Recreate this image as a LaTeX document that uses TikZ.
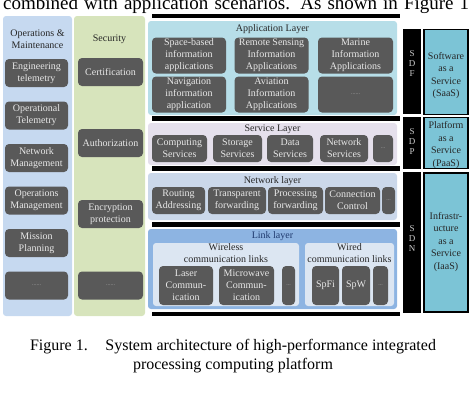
\documentclass[tikz,border=0pt]{standalone}
\usepackage{fontspec}
\setmainfont{Liberation Serif}
\usetikzlibrary{positioning}

\definecolor{opsbg}{HTML}{C6D9F0}
\definecolor{secbg}{HTML}{D7E4BC}
\definecolor{appbg}{HTML}{B7DEE8}
\definecolor{svcbg}{HTML}{E5E0EC}
\definecolor{netbg}{HTML}{CBD8EA}
\definecolor{linkbg}{HTML}{8DB4E2}
\definecolor{linkin}{HTML}{DCE6F2}
\definecolor{boxgray}{HTML}{595959}
\definecolor{boxtext}{HTML}{E8E8E8}
\definecolor{titletext}{HTML}{262626}
\definecolor{linktext}{HTML}{1F3A6E}
\definecolor{aascyan}{HTML}{7CC4D6}

\begin{document}
\begin{tikzpicture}[x=1pt, y=-1pt, font=\fontsize{10}{12.5}\selectfont]
	\tikzstyle{panel} = [rounded corners=3pt, inner sep=0pt]
	\tikzstyle{block} = [fill=boxgray, text=boxtext, rounded corners=4pt, inner sep=0pt, align=center, font=\fontsize{10}{12}\selectfont]
	\tikzstyle{dots} = [font=\fontsize{6}{6}\selectfont, text=gray!70]
	\tikzstyle{title} = [text=titletext, inner sep=0pt, align=center]
	\tikzstyle{sdx} = [fill=black, text=gray!40, inner sep=0pt, align=center, font=\fontsize{9}{10}\selectfont]
	\tikzstyle{aas} = [draw=black, line width=1.5pt, fill=aascyan, text=titletext, inner sep=0pt, align=center]

	\useasboundingbox (0,0) rectangle (474,400);

	\node[anchor=base west, inner sep=0pt, font=\fontsize{19}{22}\selectfont] (intro) at (3,9)
		{\makebox[466pt][s]{combined with application scenarios. As shown in Figure 1}};

	\begin{scope}
		\node[panel, fill=opsbg, minimum width=69, minimum height=300] (ops) at (37.5,166) {};
		\node[title] (opst) at (37.5,39) {Operations \&\\Maintenance};
		\node[block, minimum width=63, minimum height=28] (eng) at (36.5,73) {Engineering\\telemetry};
		\node[block, minimum width=63, minimum height=28] (opt) at (36.5,115.5) {Operational\\Telemetry};
		\node[block, minimum width=63, minimum height=28] (nwm) at (36.5,158) {Network\\Management};
		\node[block, minimum width=63, minimum height=28] (opm) at (36.5,200.5) {Operations\\Management};
		\node[block, minimum width=63, minimum height=28] (mis) at (36.5,243) {Mission\\Planning};
		\node[block, dots, minimum width=63, minimum height=28] (opd) at (36.5,285.5) {......};
	\end{scope}

	\begin{scope}
		\node[panel, fill=secbg, minimum width=71, minimum height=300] (sec) at (109.5,166) {};
		\node[title] (sect) at (109.5,39) {Security};
		\node[block, minimum width=65, minimum height=28] (cert) at (110.5,72) {Certification};
		\node[block, minimum width=65, minimum height=28] (auth) at (110.5,143) {Authorization};
		\node[block, minimum width=65, minimum height=28] (enc) at (110.5,214) {Encryption\\protection};
		\node[block, dots, minimum width=65, minimum height=28] (secd) at (110.5,285.5) {......};
	\end{scope}

	\fill (152,14) rectangle (400,18);
	\fill (152,116) rectangle (400,121);
	\fill (152,166) rectangle (400,171);
	\fill (152,222) rectangle (400,227);
	\fill (152,312) rectangle (400,316);

	\begin{scope}
		\node[panel, fill=appbg, minimum width=249, minimum height=94] (app) at (272.5,68) {};
		\node[title] (appt) at (272.5,29) {Application Layer};
		\node[block, minimum width=74, minimum height=36] (spc) at (189,55.5) {Space-based\\information\\applications};
		\node[block, minimum width=74, minimum height=36] (rs) at (271.5,55.5) {Remote Sensing\\Information\\Applications};
		\node[block, minimum width=75, minimum height=36] (mar) at (355.5,55.5) {Marine\\Information\\Applications};
		\node[block, minimum width=74, minimum height=36] (nav) at (189,94.5) {Navigation\\information\\application};
		\node[block, minimum width=74, minimum height=36] (avi) at (271.5,94.5) {Aviation\\Information\\Applications};
		\node[block, dots, minimum width=75, minimum height=36] (appd) at (355.5,94.5) {......};
	\end{scope}

	\begin{scope}
		\node[panel, fill=svcbg, minimum width=249, minimum height=42] (svc) at (272.5,144) {};
		\node[title] (svct) at (272.5,129) {Service Layer};
		\node[block, minimum width=55, minimum height=27] (comp) at (179.5,148.5) {Computing\\Services};
		\node[block, minimum width=49, minimum height=27] (stor) at (237.5,148.5) {Storage\\Services};
		\node[block, minimum width=46, minimum height=27] (data) at (290,148.5) {Data\\Services};
		\node[block, minimum width=48, minimum height=27] (nets) at (344,148.5) {Network\\Services};
		\node[block, dots, minimum width=20, minimum height=27] (svcd) at (383,148.5) {...};
	\end{scope}

	\begin{scope}
		\node[panel, fill=netbg, minimum width=249, minimum height=47] (net) at (272.5,196.5) {};
		\node[title] (nett) at (272.5,181) {Network layer};
		\node[block, minimum width=53, minimum height=27] (rout) at (178.5,200.5) {Routing\\Addressing};
		\node[block, minimum width=58, minimum height=27] (trans) at (237,200.5) {Transparent\\forwarding};
		\node[block, minimum width=55, minimum height=27] (proc) at (295.5,200.5) {Processing\\forwarding};
		\node[block, minimum width=55, minimum height=27] (conn) at (352.5,200.5) {Connection\\Control};
		\node[block, dots, minimum width=13, minimum height=27] (netd) at (388.5,200.5) {...};
	\end{scope}

	\begin{scope}
		\node[panel, fill=linkbg, minimum width=249, minimum height=80] (link) at (272.5,269) {};
		\node[title, text=linktext] (linkt) at (272.5,236) {Link layer};
		\node[panel, fill=linkin, minimum width=146, minimum height=63] (wl) at (226,274.5) {};
		\node[panel, fill=linkin, minimum width=89, minimum height=63] (wd) at (349.5,274.5) {};
		\node[title] (wlt) at (226,253) {Wireless\\communication links};
		\node[title] (wdt) at (349.5,253) {Wired\\communication links};
		\node[block, minimum width=54, minimum height=39] (laser) at (186,285.5) {Laser\\Commun-\\ication};
		\node[block, minimum width=55, minimum height=39] (micro) at (246.5,285.5) {Microwave\\Commun-\\ication};
		\node[block, dots, minimum width=13, minimum height=39] (wld) at (288.5,285.5) {...};
		\node[block, minimum width=27, minimum height=39] (spfi) at (325.5,285.5) {SpFi};
		\node[block, minimum width=28, minimum height=39] (spw) at (356,285.5) {SpW};
		\node[block, dots, minimum width=15, minimum height=39] (wdd) at (380.5,285.5) {...};
	\end{scope}

	\begin{scope}
		\fill (403,29) rectangle (421,114);
		\fill (403,117) rectangle (421,169);
		\fill (403,172) rectangle (421,313);
		\node[sdx] (sdf) at (412,63.5) {S\\D\\F};
		\node[sdx] (sdp) at (412,142) {S\\D\\P};
		\node[sdx] (sdn) at (412,239) {S\\D\\N};
		\node[aas, minimum width=44, minimum height=85] (saas) at (446,72) {};
		\node[aas, minimum width=44, minimum height=51] (paas) at (446,143) {};
		\node[aas, minimum width=44, minimum height=139] (iaas) at (446,242.5) {};
		\node[title] (saast) at (446,75.5) {Software\\as a\\Service\\(SaaS)};
		\node[title] (paast) at (446,145) {Platform\\as a\\Service\\(PaaS)};
		\node[title] (iaast) at (446,242) {Infrastr-\\ucture\\as a\\Service\\(IaaS)};
	\end{scope}

	\node[align=center, inner sep=0pt, font=\fontsize{16}{19}\selectfont] (cap) at (233,356.5)
		{Figure 1.\hspace{1.1em}System architecture of high-performance integrated\\processing computing platform};
\end{tikzpicture}
\end{document}
